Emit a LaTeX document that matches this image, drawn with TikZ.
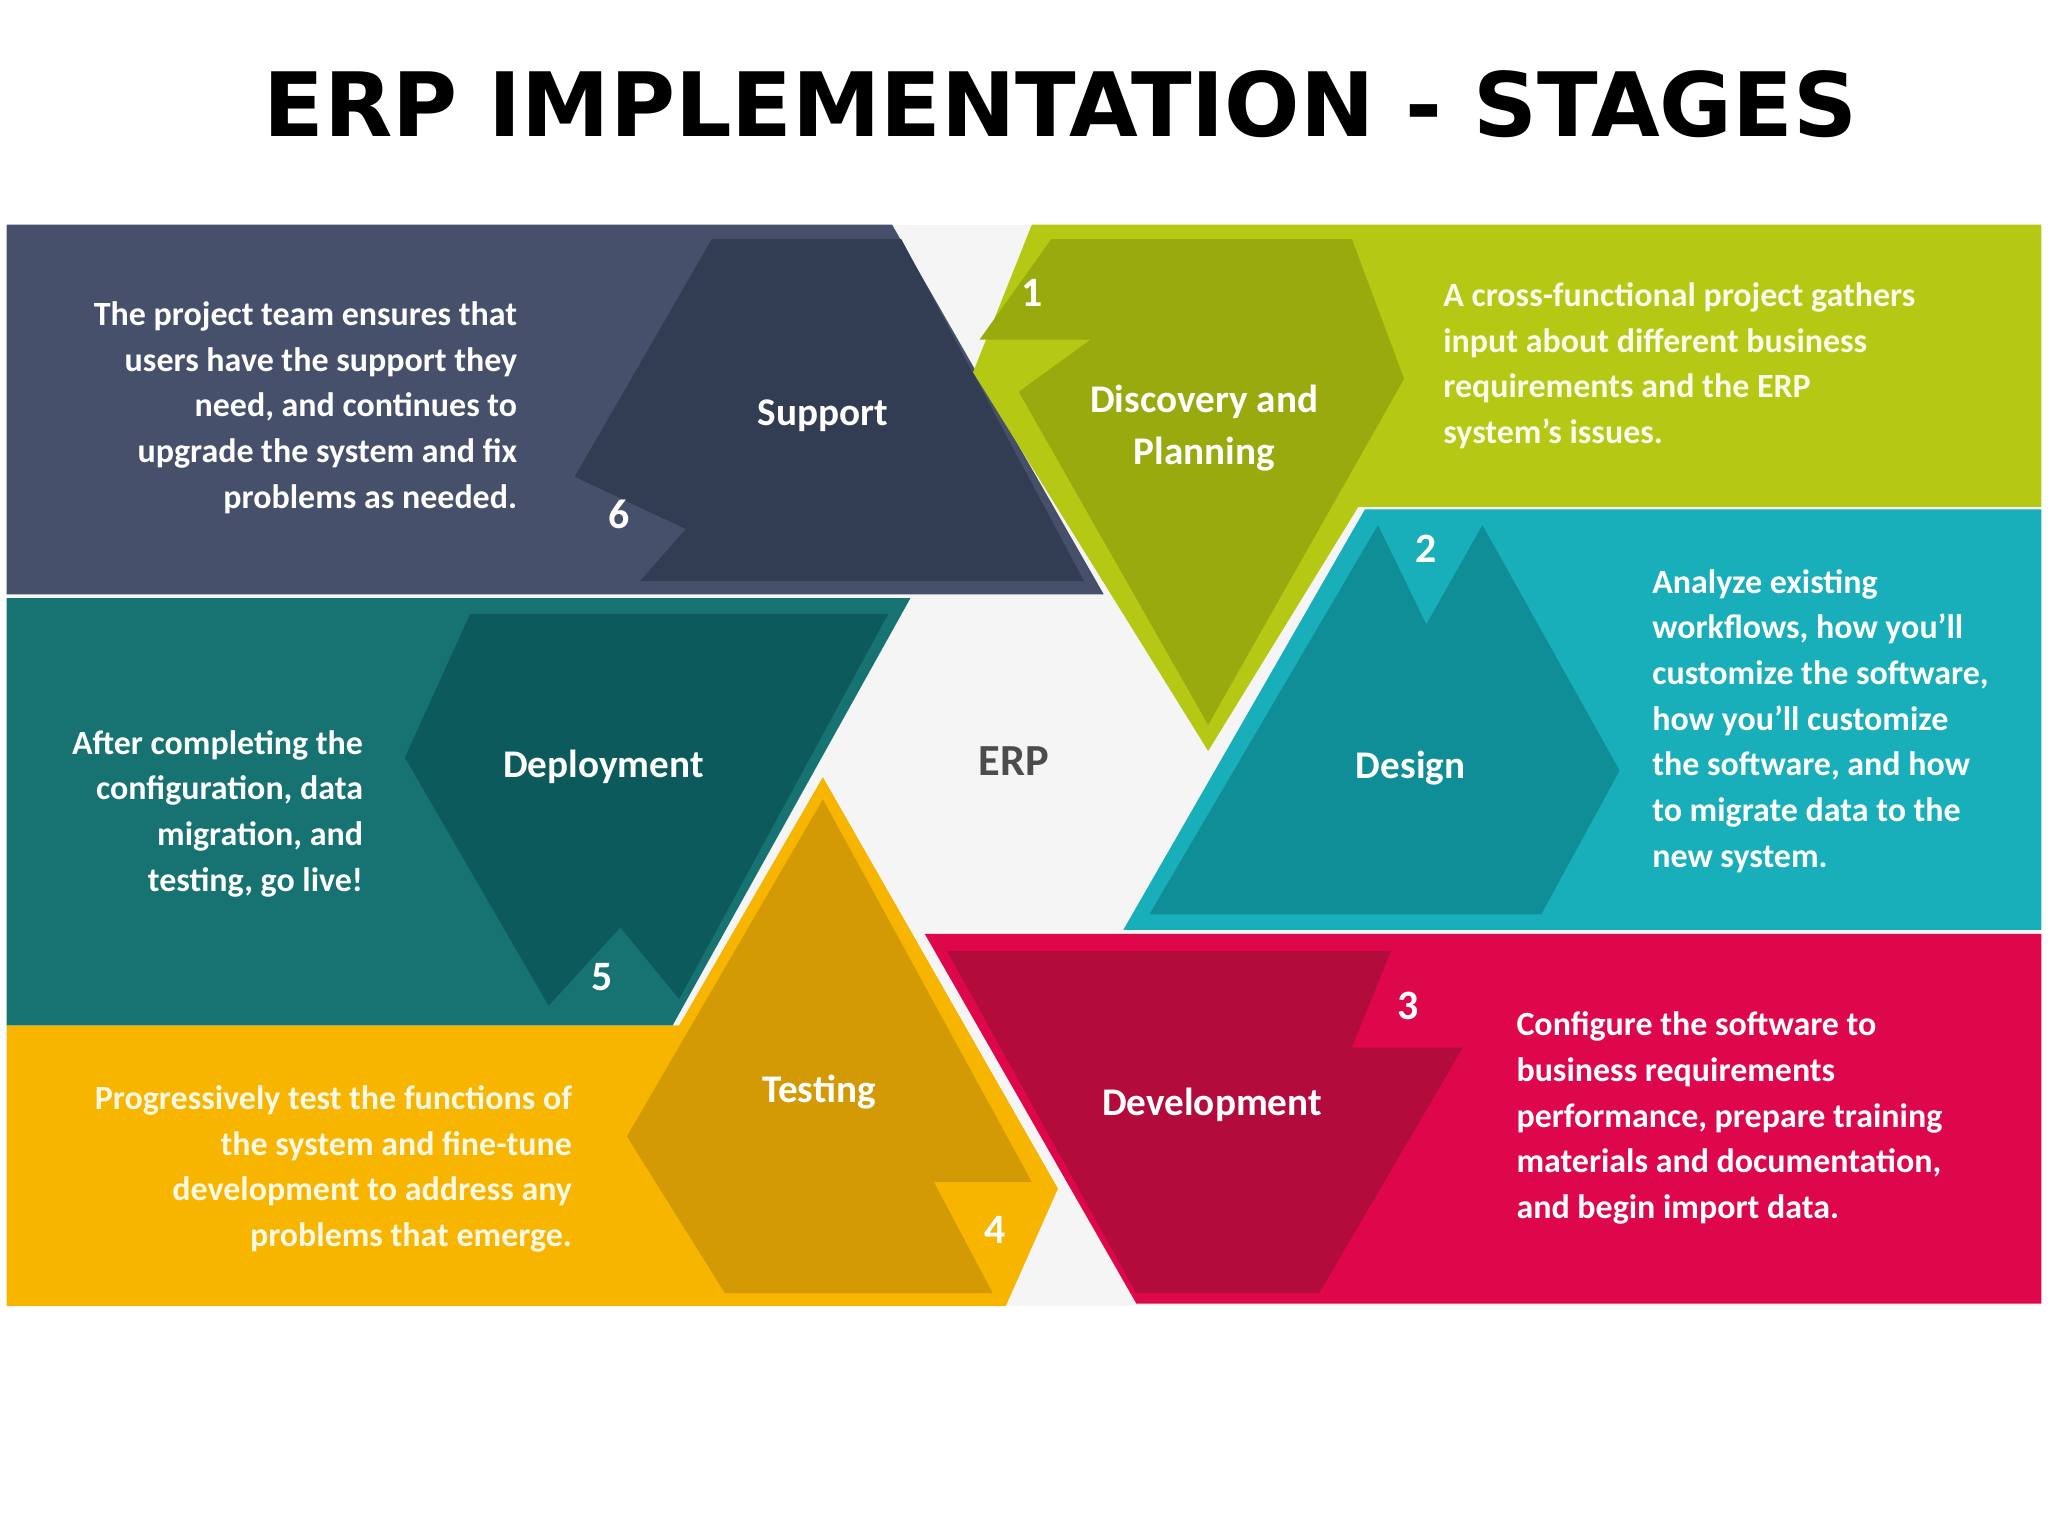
\documentclass[tikz,border=0pt]{standalone}
\usepackage{fontspec}
\setmainfont{Carlito}
\newfontfamily\titlefont{DejaVu Sans}
\definecolor{slate}{HTML}{46506A}\definecolor{slated}{HTML}{323C52}
\definecolor{lime}{HTML}{B4C814}\definecolor{limed}{HTML}{98AA0E}
\definecolor{teal}{HTML}{18AFBA}\definecolor{teald}{HTML}{108E98}
\definecolor{crim}{HTML}{DF074B}\definecolor{crimd}{HTML}{B20B3C}
\definecolor{yel}{HTML}{F7B500}\definecolor{yeld}{HTML}{D39A05}
\definecolor{dteal}{HTML}{177272}\definecolor{dteald}{HTML}{0D5A5C}
\tikzset{body/.style={text=white,font=\fontsize{13}{17.5}\selectfont\bfseries},
 lab/.style={text=white,font=\fontsize{15}{20}\selectfont\bfseries,align=center},
 num/.style={text=white,font=\fontsize{16}{20}\selectfont\bfseries}}
\begin{document}
\begin{tikzpicture}[x=0.5pt,y=-0.5pt]
\useasboundingbox (0,0) rectangle (1568,1176);
\fill[white] (0,0) rectangle (1568,1176);
\node[font=\titlefont\fontsize{34}{40}\selectfont\bfseries] (title) at (812,80) {ERP IMPLEMENTATION - STAGES};
\fill[gray!8] (5,172) rectangle (1563,1000);
% Support
\fill[slate] (5,172)--(683,172)--(845,455)--(5,455)--cycle;
\fill[slated] (545,183)--(690,183)--(830,445)--(490,445)--(525,405)--(440,365)--cycle;
% Discovery
\fill[lime] (790,172)--(1563,172)--(1563,388)--(1040,388)--(925,575)--(745,285)--cycle;
\fill[limed] (805,183)--(1035,183)--(1075,290)--(925,555)--(780,300)--(835,260)--(750,260)--cycle;
% Design
\fill[teal] (1045,390)--(1563,390)--(1563,712)--(860,712)--cycle;
\fill[teald] (1055,402)--(1092,478)--(1135,402)--(1240,590)--(1180,700)--(880,700)--cycle;
% Development
\fill[crim] (708,715)--(1563,715)--(1563,998)--(870,998)--cycle;
\fill[crimd] (725,728)--(1065,728)--(1035,802)--(1120,802)--(1010,990)--(870,990)--cycle;
% Testing
\fill[yel] (5,785)--(520,785)--(630,595)--(810,910)--(770,1000)--(5,1000)--cycle;
\fill[yeld] (630,612)--(790,905)--(715,905)--(760,990)--(555,990)--(480,870)--cycle;
% Deployment
\fill[dteal] (5,458)--(697,458)--(515,785)--(5,785)--cycle;
\fill[dteald] (360,470)--(680,470)--(520,765)--(475,710)--(420,770)--(310,580)--cycle;
% labels
\node[lab] (s6) at (630,318) {Support};
\node[lab] (s1) at (922,328) {Discovery and\\Planning};
\node[lab] (s2) at (1080,588) {Design};
\node[lab] (s3) at (928,846) {Development};
\node[lab] (s4) at (627,836) {Testing};
\node[lab] (s5) at (462,587) {Deployment};
\node[font=\fontsize{17}{20}\selectfont\bfseries,text=black!70] (erp) at (776,583) {ERP};
\node[num] (n1) at (790,224) {1};
\node[num] (n2) at (1092,420) {2};
\node[num] (n3) at (1078,770) {3};
\node[num] (n4) at (762,942) {4};
\node[num] (n5) at (461,748) {5};
\node[num] (n6) at (474,394) {6};
% descriptions
\node[body,align=right,anchor=east] (d6) at (403,312) {The project team ensures that\\users have the support they\\need, and continues to\\upgrade the system and fix\\problems as needed.};
\node[body,align=left,anchor=west,text=white!92!lime] (d1) at (1098,280) {A cross-functional project gathers\\input about different business\\requirements and the ERP\\system's issues.};
\node[body,align=left,anchor=west] (d2) at (1258,552) {Analyze existing\\workflows, how you'll\\customize the software,\\how you'll customize\\the software, and how\\to migrate data to the\\new system.};
\node[body,align=left,anchor=west] (d3) at (1154,856) {Configure the software to\\business requirements\\performance, prepare training\\materials and documentation,\\and begin import data.};
\node[body,align=right,anchor=east,text=white!90!yel] (d4) at (445,895) {Progressively test the functions of\\the system and fine-tune\\development to address any\\problems that emerge.};
\node[body,align=right,anchor=east] (d5) at (285,623) {After completing the\\configuration, data\\migration, and\\testing, go live!};
\end{tikzpicture}
\end{document}
